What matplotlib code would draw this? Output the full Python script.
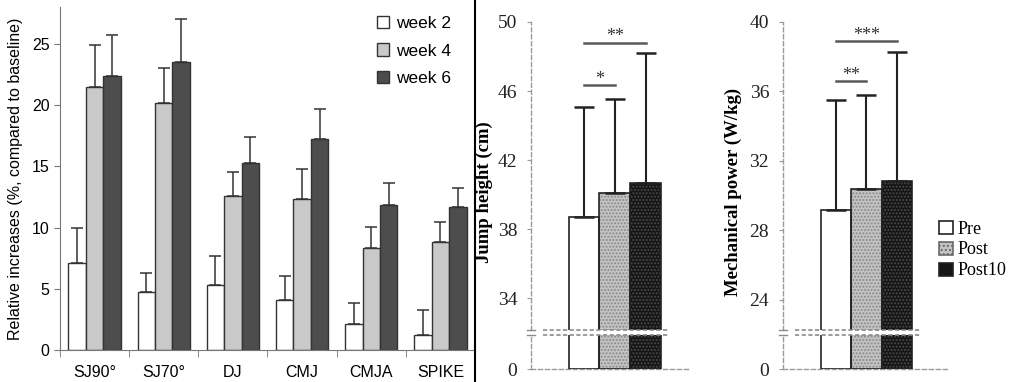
import matplotlib.pyplot as plt
import numpy as np
from matplotlib.patches import Patch
from matplotlib.lines import Line2D
from matplotlib.transforms import Bbox, TransformedBbox

# left panel: relative increases per test
tests = ['SJ90°', 'SJ70°', 'DJ', 'CMJ', 'CMJA', 'SPIKE']
week2 = [7.1, 4.7, 5.3, 4.1, 2.1, 1.25]
week2_err = [2.9, 1.55, 2.4, 1.95, 1.75, 2.05]
week4 = [21.5, 20.15, 12.6, 12.35, 8.3, 8.8]
week4_err = [3.4, 2.85, 1.95, 2.4, 1.75, 1.65]
week6 = [22.4, 23.5, 15.25, 17.25, 11.8, 11.7]
week6_err = [3.3, 3.5, 2.1, 2.4, 1.8, 1.55]
week_labels = ['week 2', 'week 4', 'week 6']

# middle / right panels
groups = ['Pre', 'Post', 'Post10']
jump = [38.7, 40.1, 40.65]
jump_err = [6.35, 5.45, 7.55]
jump_ticks = [34, 38, 42, 46, 50]
jump_sig = [(0, 1, 46.33, '*'), (0, 2, 48.8, '**')]
power = [29.15, 30.4, 30.85]
power_err = [6.35, 5.4, 7.4]
power_ticks = [24, 28, 32, 36, 40]
power_sig = [(0, 1, 36.6, '**'), (0, 2, 38.9, '***')]

W, H = 1010, 382
fig = plt.figure(figsize=(W / 100, H / 100), dpi=100)


def box(x0, y_top, x1, y_bot):
    # pixel box -> figure fraction [left, bottom, width, height]
    return [x0 / W, 1 - y_bot / H, (x1 - x0) / W, (y_bot - y_top) / H]


# ---------------- left panel ----------------
sans = 'Liberation Sans'
ax = fig.add_axes(box(60, 7, 475, 350))
x = np.arange(len(tests))
bw = 0.253
colors = ['white', '#c9c9c9', '#4d4d4d']
for i, (vals, errs) in enumerate([(week2, week2_err), (week4, week4_err), (week6, week6_err)]):
    pos = x + (i - 1) * bw
    ax.bar(pos, vals, bw, color=colors[i], edgecolor='#333333', linewidth=1,
           label=week_labels[i], zorder=2)
    ax.errorbar(pos, vals, yerr=[np.zeros(len(vals)), errs], fmt='none',
                ecolor='#333333', elinewidth=1.1, capsize=4.3, capthick=1.1, zorder=1)
ax.set_xlim(-0.5, 5.5)
ax.set_ylim(0, 28)
ax.set_yticks([0, 5, 10, 15, 20, 25])
ax.set_xticks(x)
ax.set_xticklabels(tests, fontsize=11.5, family=sans)
ax.set_xticks(np.arange(-0.5, 5.0, 1), minor=True)
ax.tick_params(axis='x', which='major', length=0, pad=11)
ax.tick_params(axis='x', which='minor', length=5, color='#777777')
ax.tick_params(axis='y', length=4, color='#777777', labelsize=11.5)
for lab in ax.get_yticklabels():
    lab.set_family(sans)
for s in ['top', 'right']:
    ax.spines[s].set_visible(False)
for s in ['left', 'bottom']:
    ax.spines[s].set_color('#777777')
ax.set_ylabel('Relative increases (%, compared to baseline)', fontsize=11.5,
              family=sans, labelpad=6)
ax.legend(loc='upper left', bbox_to_anchor=(0.725, 1.02), frameon=False,
          prop={'family': sans, 'size': 12.5}, handlelength=0.7, handleheight=0.7,
          handletextpad=0.4, labelspacing=0.72)

# divider between the two figures
fig.add_artist(Line2D([475 / W, 475 / W], [0, 1], color='black', lw=1.5))

# ---------------- serif panels ----------------
serif = 'Liberation Serif'
spine_style = dict(color='#9a9a9a', linestyle=(0, (3, 2)), linewidth=1)


def draw_panel(x_spine, x_right, bar_center, px_unit, y_top_val, y_break_val,
               vals, errs, ticks, sig, ylabel, ylabel_x, clip_left=None):
    xl = -(bar_center - x_spine) / px_unit
    xr = (x_right - bar_center) / px_unit
    up = fig.add_axes(box(x_spine, 22, x_right, 330))
    lo = fig.add_axes(box(x_spine, 335, x_right, 369))
    pos = np.arange(len(vals))
    faces = ['white', '#c4c4c4', '#151515']
    hatch_cols = [None, '#8a8a8a', '#4a4a4a']
    for a in (up, lo):
        for p, v, fc, hc in zip(pos, vals, faces, hatch_cols):
            if hc is None:
                a.bar(p, v, 1.0, color=fc, linewidth=0, zorder=2)
            else:
                a.bar(p, v, 1.0, color=fc, edgecolor=hc, hatch='.....',
                      linewidth=0, zorder=2)
            a.bar(p, v, 1.0, fill=False, edgecolor='#222222', linewidth=1.2, zorder=3)
        a.set_xlim(xl, xr)
        a.set_xticks([])
        for s in ['top', 'right']:
            a.spines[s].set_visible(False)
        a.spines['left'].set(**spine_style)
        a.tick_params(axis='y', length=3, color='#9a9a9a', pad=7, labelsize=14)
    up.errorbar(pos, vals, yerr=[np.zeros(len(vals)), errs], fmt='none',
                ecolor='#222222', elinewidth=1.5, capsize=7, capthick=1.8, zorder=4)
    up.set_ylim(y_break_val, y_top_val)
    up.set_yticks(ticks)
    up.spines['bottom'].set_visible(False)
    lo.set_ylim(0, 2)
    lo.set_yticks([0])
    lo.spines['bottom'].set(**spine_style)
    for a in (up, lo):
        for lab in a.get_yticklabels():
            lab.set_family(serif)
            lab.set_color('#222222')

    # break lines across the bars and on the axis
    bx0 = -(bar_center - (x_spine + 12)) / px_unit
    bx1 = 2 + (x_spine + 137 - (bar_center + 2 * px_unit)) / px_unit
    for a, yy in ((up, 0), (lo, 1)):
        a.plot([bx0, bx1], [yy, yy], transform=a.get_xaxis_transform(),
               color='#8a8a8a', linestyle=(0, (2.5, 1.5)), lw=1.2,
               clip_on=False, zorder=5)
        a.plot([xl - 0.12, xl + 0.12], [yy, yy], transform=a.get_xaxis_transform(),
               color='#8a8a8a', lw=1, clip_on=False, zorder=5)

    # significance brackets
    for i0, i1, yv, stars in sig:
        up.plot([i0, i1], [yv, yv], color='#5a5a5a', lw=1.8, zorder=4)
        up.text((i0 + i1) / 2, yv + 0.08, stars, ha='center', va='baseline',
                fontsize=13, family=serif, color='#333333')

    t = fig.text(ylabel_x / W, 1 - 192 / H, ylabel, rotation=90, ha='center',
                 va='center', family=serif, fontweight='bold', fontsize=13.5)
    if clip_left is not None:
        t.set_clip_box(TransformedBbox(Bbox([[clip_left / W, 0], [1, 1]]),
                                       fig.transFigure))
        t.set_clip_on(True)
    return up


draw_panel(531, 690, 584, 30.8, 50, 32.15, jump, jump_err, jump_ticks,
           jump_sig, 'Jump height (cm)', 484, clip_left=476)
draw_panel(783, 948, 836, 30.4, 40, 22.25, power, power_err, power_ticks,
           power_sig, 'Mechanical power (W/kg)', 733)

handles = [Patch(facecolor='white', edgecolor='#222222', linewidth=1.2),
           Patch(facecolor='#c4c4c4', edgecolor='#6a6a6a', hatch='....', linewidth=1.2),
           Patch(facecolor='#151515', edgecolor='#222222', linewidth=1.2)]
fig.legend(handles, groups, loc='center left', bbox_to_anchor=(930 / W, 1 - 250 / H),
           frameon=False, prop={'family': serif, 'size': 13}, handlelength=0.75,
           handleheight=0.75, handletextpad=0.3, labelspacing=0.22, borderpad=0)

fig.savefig('out.png', dpi=100)
